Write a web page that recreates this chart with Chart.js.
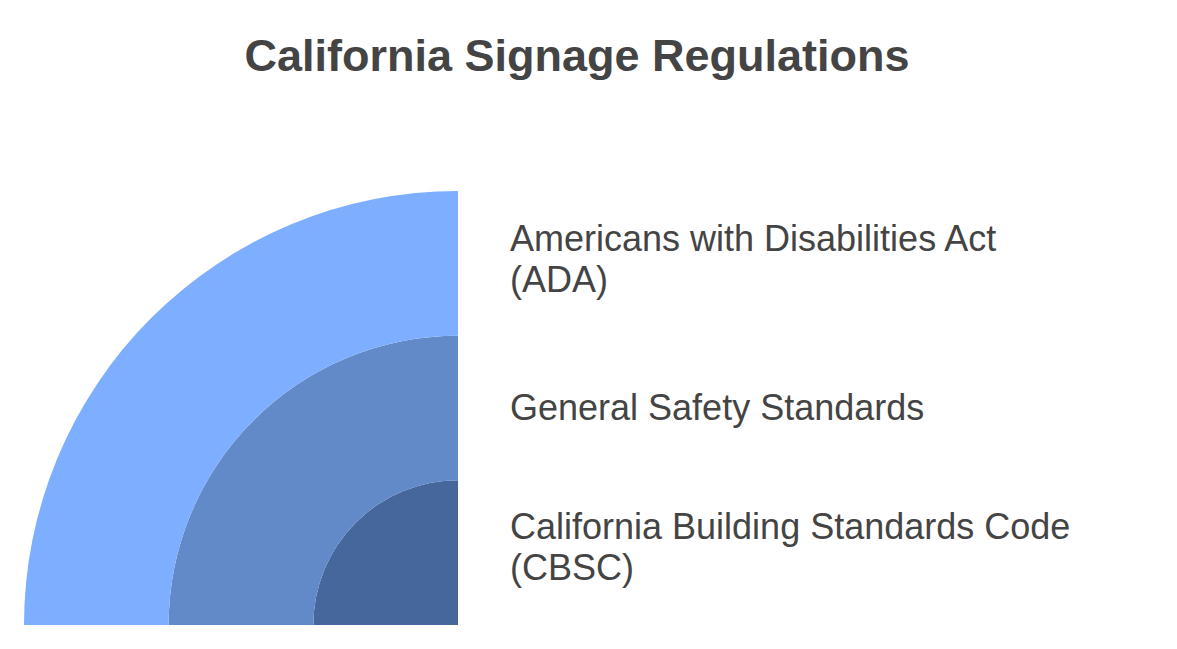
<!DOCTYPE html>
<html><head><meta charset="utf-8">
<script src="https://cdn.jsdelivr.net/npm/chart.js@4"></script>
<style>
body{margin:0;width:1177px;height:649px;background:#fff;font-family:"Liberation Sans",Arial,sans-serif;position:relative;overflow:hidden}
#title{position:absolute;left:0;width:1154px;top:30px;text-align:center;font-size:45px;font-weight:bold;color:#444}
#wrap{position:absolute;left:24px;top:191px;width:434px;height:434px}
.lab{position:absolute;left:510px;font-size:36px;color:#444;line-height:41px}
</style></head><body>
<div id="title">California Signage Regulations</div>
<div id="wrap"><canvas id="c" width="434" height="434"></canvas></div>
<div id="labels"></div>
<script>
const categories = ["Americans with Disabilities Act (ADA)", "General Safety Standards", "California Building Standards Code (CBSC)"];
const labelLines = [["Americans with Disabilities Act","(ADA)"],["General Safety Standards"],["California Building Standards Code","(CBSC)"]];
const values = [1, 1, 1];
const colors = ["#7EAEFF", "#6289C8", "#46679B"];
const labelTops = [218, 387, 506];

const lw = document.getElementById('labels');
labelLines.forEach((l,i)=>{const d=document.createElement('div');d.className='lab';d.style.top=labelTops[i]+'px';d.innerHTML=l.join('<br>');lw.appendChild(d);});

new Chart(document.getElementById('c'), {
  type: 'doughnut',
  data: {
    labels: [""],
    datasets: categories.map((c,i)=>({label:c,data:[values[i]],backgroundColor:colors[i],borderWidth:0}))
  },
  options: {
    responsive:false, animation:false, cutout:0, rotation:-90, circumference:90,
    layout:{padding:0},
    plugins:{legend:{display:false},tooltip:{enabled:false}}
  }
});
</script></body></html>
